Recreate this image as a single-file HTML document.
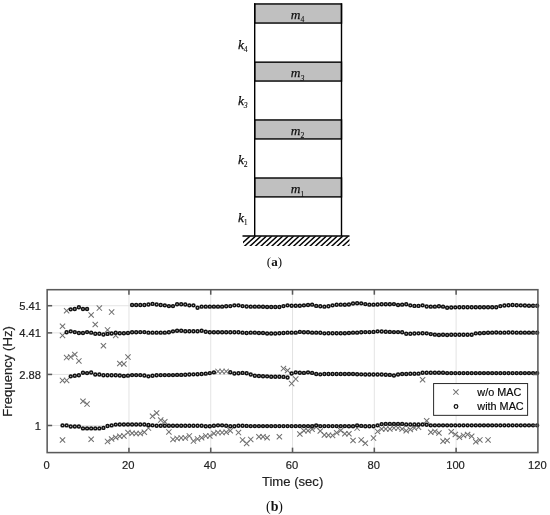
<!DOCTYPE html>
<html><head><meta charset="utf-8"><title>Figure</title>
<style>
html,body{margin:0;padding:0;background:#fff;}
svg{display:block;}
.ss{font-family:"Liberation Sans",sans-serif;fill:#222;stroke:#222;stroke-width:0.18px;}
.sf{font-family:"Liberation Serif",serif;fill:#111;}
</style></head><body>
<svg width="550" height="515" viewBox="0 0 550 515">
<rect width="550" height="515" fill="#fff"/>
<g id="frame">
<rect x="254.7" y="3.95" width="86.8" height="19.1" fill="#c0c0c0" stroke="#000" stroke-width="1.4"/>
<rect x="254.7" y="62.15" width="86.8" height="18.9" fill="#c0c0c0" stroke="#000" stroke-width="1.4"/>
<rect x="254.7" y="119.95" width="86.8" height="19.0" fill="#c0c0c0" stroke="#000" stroke-width="1.4"/>
<rect x="254.7" y="178.0" width="86.8" height="18.9" fill="#c0c0c0" stroke="#000" stroke-width="1.4"/>
<line x1="254.7" y1="3.3" x2="254.7" y2="236" stroke="#000" stroke-width="1.4"/>
<line x1="341.5" y1="3.3" x2="341.5" y2="236" stroke="#000" stroke-width="1.4"/>
<line x1="242.5" y1="236" x2="349.5" y2="236" stroke="#000" stroke-width="1.65"/>
<clipPath id="hc"><rect x="243" y="236.3" width="106.5" height="9.6"/></clipPath>
<g clip-path="url(#hc)" stroke="#000" stroke-width="1.45">
<line x1="238.20" y1="247" x2="250.20" y2="236"/><line x1="243.65" y1="247" x2="255.65" y2="236"/><line x1="249.10" y1="247" x2="261.10" y2="236"/><line x1="254.55" y1="247" x2="266.55" y2="236"/><line x1="260.00" y1="247" x2="272.00" y2="236"/><line x1="265.45" y1="247" x2="277.45" y2="236"/><line x1="270.90" y1="247" x2="282.90" y2="236"/><line x1="276.35" y1="247" x2="288.35" y2="236"/><line x1="281.80" y1="247" x2="293.80" y2="236"/><line x1="287.25" y1="247" x2="299.25" y2="236"/><line x1="292.70" y1="247" x2="304.70" y2="236"/><line x1="298.15" y1="247" x2="310.15" y2="236"/><line x1="303.60" y1="247" x2="315.60" y2="236"/><line x1="309.05" y1="247" x2="321.05" y2="236"/><line x1="314.50" y1="247" x2="326.50" y2="236"/><line x1="319.95" y1="247" x2="331.95" y2="236"/><line x1="325.40" y1="247" x2="337.40" y2="236"/><line x1="330.85" y1="247" x2="342.85" y2="236"/><line x1="336.30" y1="247" x2="348.30" y2="236"/><line x1="341.75" y1="247" x2="353.75" y2="236"/><line x1="347.20" y1="247" x2="359.20" y2="236"/>
</g>
<text class="sf" x="290.7" y="18.55" font-size="13.4" font-style="italic" stroke="#111" stroke-width="0.25">m<tspan font-size="7.7" font-style="normal" dy="3.9" dx="0.1" stroke-width="0.1">4</tspan></text>
<text class="sf" x="290.7" y="76.75" font-size="13.4" font-style="italic" stroke="#111" stroke-width="0.25">m<tspan font-size="7.7" font-style="italic" dy="3.9" dx="0.1" stroke-width="0.1">3</tspan></text>
<text class="sf" x="290.7" y="134.55" font-size="13.4" font-style="italic" stroke="#111" stroke-width="0.25">m<tspan font-size="7.7" font-style="normal" dy="3.9" dx="0.1" stroke-width="0.1">2</tspan></text>
<text class="sf" x="290.7" y="192.60" font-size="13.4" font-style="italic" stroke="#111" stroke-width="0.25">m<tspan font-size="7.7" font-style="normal" dy="3.9" dx="0.1" stroke-width="0.1">1</tspan></text>
<text class="sf" x="238.0" y="48.6" font-size="13.4" font-style="italic" stroke="#111" stroke-width="0.25">k<tspan font-size="7.7" font-style="normal" dy="3.3" dx="-0.2" stroke-width="0.1">4</tspan></text>
<text class="sf" x="238.0" y="104.5" font-size="13.4" font-style="italic" stroke="#111" stroke-width="0.25">k<tspan font-size="7.7" font-style="italic" dy="3.3" dx="-0.2" stroke-width="0.1">3</tspan></text>
<text class="sf" x="238.0" y="163.7" font-size="13.4" font-style="italic" stroke="#111" stroke-width="0.25">k<tspan font-size="7.7" font-style="normal" dy="3.3" dx="-0.2" stroke-width="0.1">2</tspan></text>
<text class="sf" x="238.0" y="221.5" font-size="13.4" font-style="italic" stroke="#111" stroke-width="0.25">k<tspan font-size="7.7" font-style="normal" dy="3.3" dx="-0.2" stroke-width="0.1">1</tspan></text>
<text class="sf" x="274.4" y="266.2" font-size="13" text-anchor="middle">(<tspan font-weight="bold">a</tspan>)</text>
</g>
<g id="chart">
<rect x="47.15" y="289.7" width="490.75" height="162.9" fill="#fff"/>
<g stroke="#e0e0e0" stroke-width="0.9">
<line x1="128.94" y1="289.7" x2="128.94" y2="452.65"/><line x1="210.73" y1="289.7" x2="210.73" y2="452.65"/><line x1="292.52" y1="289.7" x2="292.52" y2="452.65"/><line x1="374.32" y1="289.7" x2="374.32" y2="452.65"/><line x1="456.11" y1="289.7" x2="456.11" y2="452.65"/><line x1="47.15" y1="425.49" x2="537.9" y2="425.49"/><line x1="47.15" y1="374.43" x2="537.9" y2="374.43"/><line x1="47.15" y1="332.88" x2="537.9" y2="332.88"/><line x1="47.15" y1="305.72" x2="537.9" y2="305.72"/>
</g>
<g stroke="#707070" stroke-width="1.05" fill="none">
<path d="M63.96 308.15L69.26 313.45M63.96 313.45L69.26 308.15"/><path d="M88.51 312.35L93.81 317.65M88.51 317.65L93.81 312.35"/><path d="M96.69 305.45L101.99 310.75M96.69 310.75L101.99 305.45"/><path d="M108.97 309.45L114.27 314.75M108.97 314.75L114.27 309.45"/><path d="M59.87 323.65L65.17 328.95M59.87 328.95L65.17 323.65"/><path d="M59.87 332.75L65.17 338.05M59.87 338.05L65.17 332.75"/><path d="M92.60 321.85L97.90 327.15M92.60 327.15L97.90 321.85"/><path d="M104.88 327.25L110.18 332.55M104.88 332.55L110.18 327.25"/><path d="M113.06 332.75L118.36 338.05M113.06 338.05L118.36 332.75"/><path d="M100.78 343.15L106.08 348.45M100.78 348.45L106.08 343.15"/><path d="M59.87 377.75L65.17 383.05M59.87 383.05L65.17 377.75"/><path d="M63.96 377.75L69.26 383.05M63.96 383.05L69.26 377.75"/><path d="M63.96 354.95L69.26 360.25M63.96 360.25L69.26 354.95"/><path d="M68.05 354.45L73.35 359.75M68.05 359.75L73.35 354.45"/><path d="M72.14 351.85L77.44 357.15M72.14 357.15L77.44 351.85"/><path d="M76.23 358.25L81.53 363.55M76.23 363.55L81.53 358.25"/><path d="M117.15 360.85L122.45 366.15M117.15 366.15L122.45 360.85"/><path d="M121.24 361.35L126.54 366.65M121.24 366.65L126.54 361.35"/><path d="M125.33 354.45L130.63 359.75M125.33 359.75L130.63 354.45"/><path d="M215.35 368.75L220.65 374.05M215.35 374.05L220.65 368.75"/><path d="M219.44 368.75L224.74 374.05M219.44 374.05L224.74 368.75"/><path d="M223.53 368.75L228.83 374.05M223.53 374.05L228.83 368.75"/><path d="M280.82 365.95L286.12 371.25M280.82 371.25L286.12 365.95"/><path d="M284.91 367.85L290.21 373.15M284.91 373.15L290.21 367.85"/><path d="M289.00 380.95L294.30 386.25M289.00 386.25L294.30 380.95"/><path d="M293.09 376.45L298.39 381.75M293.09 381.75L298.39 376.45"/><path d="M419.94 377.15L425.24 382.45M419.94 382.45L425.24 377.15"/><path d="M80.33 398.55L85.63 403.85M80.33 403.85L85.63 398.55"/><path d="M84.42 401.45L89.72 406.75M84.42 406.75L89.72 401.45"/><path d="M59.87 437.35L65.17 442.65M59.87 442.65L65.17 437.35"/><path d="M88.51 436.65L93.81 441.95M88.51 441.95L93.81 436.65"/><path d="M104.88 438.75L110.18 444.05M104.88 444.05L110.18 438.75"/><path d="M108.97 436.35L114.27 441.65M108.97 441.65L114.27 436.35"/><path d="M113.06 434.85L118.36 440.15M113.06 440.15L118.36 434.85"/><path d="M117.15 433.65L122.45 438.95M117.15 438.95L122.45 433.65"/><path d="M121.24 433.25L126.54 438.55M121.24 438.55L126.54 433.25"/><path d="M125.33 429.95L130.63 435.25M125.33 435.25L130.63 429.95"/><path d="M129.43 430.55L134.73 435.85M129.43 435.85L134.73 430.55"/><path d="M133.52 430.85L138.82 436.15M133.52 436.15L138.82 430.85"/><path d="M137.61 430.85L142.91 436.15M137.61 436.15L142.91 430.85"/><path d="M141.70 429.55L147.00 434.85M141.70 434.85L147.00 429.55"/><path d="M145.79 425.45L151.09 430.75M145.79 430.75L151.09 425.45"/><path d="M149.88 413.55L155.18 418.85M149.88 418.85L155.18 413.55"/><path d="M153.98 410.35L159.28 415.65M153.98 415.65L159.28 410.35"/><path d="M158.07 417.45L163.37 422.75M158.07 422.75L163.37 417.45"/><path d="M162.16 419.15L167.46 424.45M162.16 424.45L167.46 419.15"/><path d="M166.25 429.25L171.55 434.55M166.25 434.55L171.55 429.25"/><path d="M170.34 436.75L175.64 442.05M170.34 442.05L175.64 436.75"/><path d="M174.43 435.75L179.73 441.05M174.43 441.05L179.73 435.75"/><path d="M178.53 435.25L183.83 440.55M178.53 440.55L183.83 435.25"/><path d="M182.62 435.25L187.92 440.55M182.62 440.55L187.92 435.25"/><path d="M186.71 433.25L192.01 438.55M186.71 438.55L192.01 433.25"/><path d="M190.80 438.45L196.10 443.75M190.80 443.75L196.10 438.45"/><path d="M194.89 436.25L200.19 441.55M194.89 441.55L200.19 436.25"/><path d="M198.98 435.05L204.28 440.35M198.98 440.35L204.28 435.05"/><path d="M203.08 433.25L208.38 438.55M203.08 438.55L208.38 433.25"/><path d="M207.17 433.25L212.47 438.55M207.17 438.55L212.47 433.25"/><path d="M211.26 430.85L216.56 436.15M211.26 436.15L216.56 430.85"/><path d="M215.35 429.95L220.65 435.25M215.35 435.25L220.65 429.95"/><path d="M219.44 429.95L224.74 435.25M219.44 435.25L224.74 429.95"/><path d="M223.53 429.65L228.83 434.95M223.53 434.95L228.83 429.65"/><path d="M227.63 428.15L232.93 433.45M227.63 433.45L232.93 428.15"/><path d="M235.81 429.95L241.11 435.25M235.81 435.25L241.11 429.95"/><path d="M239.90 437.25L245.20 442.55M239.90 442.55L245.20 437.25"/><path d="M243.99 440.85L249.29 446.15M243.99 446.15L249.29 440.85"/><path d="M248.08 436.75L253.38 442.05M248.08 442.05L253.38 436.75"/><path d="M256.27 434.15L261.57 439.45M256.27 439.45L261.57 434.15"/><path d="M260.36 434.15L265.66 439.45M260.36 439.45L265.66 434.15"/><path d="M264.45 435.05L269.75 440.35M264.45 440.35L269.75 435.05"/><path d="M276.73 434.15L282.03 439.45M276.73 439.45L282.03 434.15"/><path d="M297.19 431.35L302.49 436.65M297.19 436.65L302.49 431.35"/><path d="M301.28 428.05L306.58 433.35M301.28 433.35L306.58 428.05"/><path d="M305.37 428.15L310.67 433.45M305.37 433.45L310.67 428.15"/><path d="M309.46 426.65L314.76 431.95M309.46 431.95L314.76 426.65"/><path d="M313.55 424.35L318.85 429.65M313.55 429.65L318.85 424.35"/><path d="M317.64 428.35L322.94 433.65M317.64 433.65L322.94 428.35"/><path d="M321.74 432.35L327.04 437.65M321.74 437.65L327.04 432.35"/><path d="M325.83 432.55L331.13 437.85M325.83 437.85L331.13 432.55"/><path d="M329.92 432.75L335.22 438.05M329.92 438.05L335.22 432.75"/><path d="M334.01 430.05L339.31 435.35M334.01 435.35L339.31 430.05"/><path d="M338.10 427.85L343.40 433.15M338.10 433.15L343.40 427.85"/><path d="M342.19 431.05L347.49 436.35M342.19 436.35L347.49 431.05"/><path d="M346.29 431.05L351.59 436.35M346.29 436.35L351.59 431.05"/><path d="M350.38 437.85L355.68 443.15M350.38 443.15L355.68 437.85"/><path d="M354.47 425.45L359.77 430.75M354.47 430.75L359.77 425.45"/><path d="M358.56 437.25L363.86 442.55M358.56 442.55L363.86 437.25"/><path d="M362.65 440.55L367.95 445.85M362.65 445.85L367.95 440.55"/><path d="M370.84 435.45L376.14 440.75M370.84 440.75L376.14 435.45"/><path d="M374.93 428.75L380.23 434.05M374.93 434.05L380.23 428.75"/><path d="M379.02 426.35L384.32 431.65M379.02 431.65L384.32 426.35"/><path d="M383.11 426.35L388.41 431.65M383.11 431.65L388.41 426.35"/><path d="M387.20 426.35L392.50 431.65M387.20 431.65L392.50 426.35"/><path d="M391.29 425.45L396.59 430.75M391.29 430.75L396.59 425.45"/><path d="M395.39 425.45L400.69 430.75M395.39 430.75L400.69 425.45"/><path d="M399.48 426.35L404.78 431.65M399.48 431.65L404.78 426.35"/><path d="M403.57 428.15L408.87 433.45M403.57 433.45L408.87 428.15"/><path d="M407.66 426.85L412.96 432.15M407.66 432.15L412.96 426.85"/><path d="M411.75 425.45L417.05 430.75M411.75 430.75L417.05 425.45"/><path d="M415.84 424.55L421.14 429.85M415.84 429.85L421.14 424.55"/><path d="M424.03 418.15L429.33 423.45M424.03 423.45L429.33 418.15"/><path d="M428.12 429.65L433.42 434.95M428.12 434.95L433.42 429.65"/><path d="M432.21 428.75L437.51 434.05M432.21 434.05L437.51 428.75"/><path d="M436.30 430.35L441.60 435.65M436.30 435.65L441.60 430.35"/><path d="M440.39 438.55L445.69 443.85M440.39 443.85L445.69 438.55"/><path d="M444.49 437.85L449.79 443.15M444.49 443.15L449.79 437.85"/><path d="M448.58 429.05L453.88 434.35M448.58 434.35L453.88 429.05"/><path d="M452.67 431.85L457.97 437.15M452.67 437.15L457.97 431.85"/><path d="M456.76 434.55L462.06 439.85M456.76 439.85L462.06 434.55"/><path d="M460.85 432.75L466.15 438.05M460.85 438.05L466.15 432.75"/><path d="M464.94 431.85L470.24 437.15M464.94 437.15L470.24 431.85"/><path d="M469.04 433.65L474.34 438.95M469.04 438.95L474.34 433.65"/><path d="M473.13 439.05L478.43 444.35M473.13 444.35L478.43 439.05"/><path d="M477.22 437.25L482.52 442.55M477.22 442.55L482.52 437.25"/><path d="M485.40 437.25L490.70 442.55M485.40 442.55L490.70 437.25"/>
</g>
<g stroke="#111" stroke-width="1.5" fill="#c4c4c4">
<circle cx="62.52" cy="425.40" r="1.45"/><circle cx="66.61" cy="425.40" r="1.45"/><circle cx="70.70" cy="426.50" r="1.45"/><circle cx="74.79" cy="426.50" r="1.45"/><circle cx="78.88" cy="426.50" r="1.45"/><circle cx="82.98" cy="428.40" r="1.45"/><circle cx="87.07" cy="428.40" r="1.45"/><circle cx="91.16" cy="428.40" r="1.45"/><circle cx="95.25" cy="428.40" r="1.45"/><circle cx="99.34" cy="428.40" r="1.45"/><circle cx="103.43" cy="427.90" r="1.45"/><circle cx="107.53" cy="426.00" r="1.45"/><circle cx="111.62" cy="425.40" r="1.45"/><circle cx="115.71" cy="424.60" r="1.45"/><circle cx="119.80" cy="424.50" r="1.45"/><circle cx="123.89" cy="424.50" r="1.45"/><circle cx="127.98" cy="424.50" r="1.45"/><circle cx="132.08" cy="424.50" r="1.45"/><circle cx="136.17" cy="424.50" r="1.45"/><circle cx="140.26" cy="424.50" r="1.45"/><circle cx="144.35" cy="424.50" r="1.45"/><circle cx="148.44" cy="425.00" r="1.45"/><circle cx="152.53" cy="425.36" r="1.45"/><circle cx="156.63" cy="425.73" r="1.45"/><circle cx="160.72" cy="425.73" r="1.45"/><circle cx="164.81" cy="425.73" r="1.45"/><circle cx="168.90" cy="425.73" r="1.45"/><circle cx="172.99" cy="425.73" r="1.45"/><circle cx="177.08" cy="425.73" r="1.45"/><circle cx="181.18" cy="425.73" r="1.45"/><circle cx="185.27" cy="425.73" r="1.45"/><circle cx="189.36" cy="425.73" r="1.45"/><circle cx="193.45" cy="425.73" r="1.45"/><circle cx="197.54" cy="425.73" r="1.45"/><circle cx="201.63" cy="425.73" r="1.45"/><circle cx="205.73" cy="426.27" r="1.45"/><circle cx="209.82" cy="426.27" r="1.45"/><circle cx="213.91" cy="425.73" r="1.45"/><circle cx="218.00" cy="425.36" r="1.45"/><circle cx="222.09" cy="425.36" r="1.45"/><circle cx="226.18" cy="425.73" r="1.45"/><circle cx="230.28" cy="426.27" r="1.45"/><circle cx="234.37" cy="426.27" r="1.45"/><circle cx="238.46" cy="425.73" r="1.45"/><circle cx="242.55" cy="425.73" r="1.45"/><circle cx="246.64" cy="425.91" r="1.45"/><circle cx="250.73" cy="426.09" r="1.45"/><circle cx="254.83" cy="426.09" r="1.45"/><circle cx="258.92" cy="426.09" r="1.45"/><circle cx="263.01" cy="426.09" r="1.45"/><circle cx="267.10" cy="426.09" r="1.45"/><circle cx="271.19" cy="426.09" r="1.45"/><circle cx="275.28" cy="426.09" r="1.45"/><circle cx="279.38" cy="426.09" r="1.45"/><circle cx="283.47" cy="426.09" r="1.45"/><circle cx="287.56" cy="426.09" r="1.45"/><circle cx="291.65" cy="426.09" r="1.45"/><circle cx="295.74" cy="426.09" r="1.45"/><circle cx="299.84" cy="426.09" r="1.45"/><circle cx="303.93" cy="426.09" r="1.45"/><circle cx="308.02" cy="426.09" r="1.45"/><circle cx="312.11" cy="426.09" r="1.45"/><circle cx="316.20" cy="425.36" r="1.45"/><circle cx="320.29" cy="426.09" r="1.45"/><circle cx="324.39" cy="426.09" r="1.45"/><circle cx="328.48" cy="426.09" r="1.45"/><circle cx="332.57" cy="426.09" r="1.45"/><circle cx="336.66" cy="426.09" r="1.45"/><circle cx="340.75" cy="426.09" r="1.45"/><circle cx="344.84" cy="426.09" r="1.45"/><circle cx="348.94" cy="426.27" r="1.45"/><circle cx="353.03" cy="426.27" r="1.45"/><circle cx="357.12" cy="425.36" r="1.45"/><circle cx="361.21" cy="425.91" r="1.45"/><circle cx="365.30" cy="426.27" r="1.45"/><circle cx="369.39" cy="426.27" r="1.45"/><circle cx="373.49" cy="426.27" r="1.45"/><circle cx="377.58" cy="425.36" r="1.45"/><circle cx="381.67" cy="424.09" r="1.45"/><circle cx="385.76" cy="423.91" r="1.45"/><circle cx="389.85" cy="423.91" r="1.45"/><circle cx="393.94" cy="423.91" r="1.45"/><circle cx="398.04" cy="423.91" r="1.45"/><circle cx="402.13" cy="423.91" r="1.45"/><circle cx="406.22" cy="424.45" r="1.45"/><circle cx="410.31" cy="424.45" r="1.45"/><circle cx="414.40" cy="424.45" r="1.45"/><circle cx="418.49" cy="424.45" r="1.45"/><circle cx="422.59" cy="424.45" r="1.45"/><circle cx="426.68" cy="424.82" r="1.45"/><circle cx="430.77" cy="425.36" r="1.45"/><circle cx="434.86" cy="425.36" r="1.45"/><circle cx="438.95" cy="425.36" r="1.45"/><circle cx="443.04" cy="425.36" r="1.45"/><circle cx="447.14" cy="425.36" r="1.45"/><circle cx="451.23" cy="425.36" r="1.45"/><circle cx="455.32" cy="425.36" r="1.45"/><circle cx="459.41" cy="425.36" r="1.45"/><circle cx="463.50" cy="425.36" r="1.45"/><circle cx="467.59" cy="425.36" r="1.45"/><circle cx="471.69" cy="425.36" r="1.45"/><circle cx="475.78" cy="425.36" r="1.45"/><circle cx="479.87" cy="425.36" r="1.45"/><circle cx="483.96" cy="425.36" r="1.45"/><circle cx="488.05" cy="425.36" r="1.45"/><circle cx="492.15" cy="425.36" r="1.45"/><circle cx="496.24" cy="425.36" r="1.45"/><circle cx="500.33" cy="425.36" r="1.45"/><circle cx="504.42" cy="425.36" r="1.45"/><circle cx="508.51" cy="425.36" r="1.45"/><circle cx="512.60" cy="425.36" r="1.45"/><circle cx="516.70" cy="425.36" r="1.45"/><circle cx="520.79" cy="425.36" r="1.45"/><circle cx="524.88" cy="425.36" r="1.45"/><circle cx="528.97" cy="425.36" r="1.45"/><circle cx="533.06" cy="425.36" r="1.45"/><circle cx="537.15" cy="425.36" r="1.45"/>
<circle cx="70.70" cy="376.36" r="1.45"/><circle cx="74.79" cy="375.82" r="1.45"/><circle cx="78.88" cy="375.27" r="1.45"/><circle cx="82.98" cy="372.73" r="1.45"/><circle cx="87.07" cy="373.09" r="1.45"/><circle cx="91.16" cy="372.55" r="1.45"/><circle cx="95.25" cy="374.55" r="1.45"/><circle cx="99.34" cy="374.55" r="1.45"/><circle cx="103.43" cy="375.27" r="1.45"/><circle cx="107.53" cy="375.27" r="1.45"/><circle cx="111.62" cy="375.27" r="1.45"/><circle cx="115.71" cy="375.27" r="1.45"/><circle cx="119.80" cy="375.45" r="1.45"/><circle cx="123.89" cy="376.00" r="1.45"/><circle cx="127.98" cy="375.64" r="1.45"/><circle cx="132.08" cy="375.09" r="1.45"/><circle cx="136.17" cy="375.09" r="1.45"/><circle cx="140.26" cy="375.09" r="1.45"/><circle cx="144.35" cy="375.45" r="1.45"/><circle cx="148.44" cy="376.36" r="1.45"/><circle cx="152.53" cy="375.82" r="1.45"/><circle cx="156.63" cy="375.27" r="1.45"/><circle cx="160.72" cy="375.09" r="1.45"/><circle cx="164.81" cy="375.09" r="1.45"/><circle cx="168.90" cy="375.09" r="1.45"/><circle cx="172.99" cy="375.09" r="1.45"/><circle cx="177.08" cy="374.91" r="1.45"/><circle cx="181.18" cy="374.91" r="1.45"/><circle cx="185.27" cy="374.73" r="1.45"/><circle cx="189.36" cy="374.55" r="1.45"/><circle cx="193.45" cy="374.36" r="1.45"/><circle cx="197.54" cy="374.18" r="1.45"/><circle cx="201.63" cy="374.00" r="1.45"/><circle cx="205.73" cy="373.64" r="1.45"/><circle cx="209.82" cy="373.09" r="1.45"/><circle cx="213.91" cy="372.36" r="1.45"/><circle cx="230.28" cy="372.18" r="1.45"/><circle cx="234.37" cy="373.45" r="1.45"/><circle cx="238.46" cy="373.27" r="1.45"/><circle cx="242.55" cy="372.91" r="1.45"/><circle cx="246.64" cy="373.27" r="1.45"/><circle cx="250.73" cy="374.55" r="1.45"/><circle cx="254.83" cy="375.82" r="1.45"/><circle cx="258.92" cy="376.00" r="1.45"/><circle cx="263.01" cy="376.18" r="1.45"/><circle cx="267.10" cy="376.36" r="1.45"/><circle cx="271.19" cy="376.73" r="1.45"/><circle cx="275.28" cy="376.73" r="1.45"/><circle cx="279.38" cy="376.73" r="1.45"/><circle cx="283.47" cy="376.91" r="1.45"/><circle cx="287.56" cy="377.45" r="1.45"/><circle cx="291.65" cy="373.45" r="1.45"/><circle cx="295.74" cy="372.36" r="1.45"/><circle cx="299.84" cy="372.73" r="1.45"/><circle cx="303.93" cy="372.91" r="1.45"/><circle cx="308.02" cy="372.36" r="1.45"/><circle cx="312.11" cy="372.91" r="1.45"/><circle cx="316.20" cy="374.00" r="1.45"/><circle cx="320.29" cy="374.36" r="1.45"/><circle cx="324.39" cy="374.00" r="1.45"/><circle cx="328.48" cy="374.00" r="1.45"/><circle cx="332.57" cy="374.00" r="1.45"/><circle cx="336.66" cy="374.00" r="1.45"/><circle cx="340.75" cy="374.00" r="1.45"/><circle cx="344.84" cy="374.00" r="1.45"/><circle cx="348.94" cy="374.00" r="1.45"/><circle cx="353.03" cy="374.00" r="1.45"/><circle cx="357.12" cy="374.18" r="1.45"/><circle cx="361.21" cy="374.36" r="1.45"/><circle cx="365.30" cy="374.55" r="1.45"/><circle cx="369.39" cy="374.55" r="1.45"/><circle cx="373.49" cy="374.55" r="1.45"/><circle cx="377.58" cy="374.55" r="1.45"/><circle cx="381.67" cy="374.55" r="1.45"/><circle cx="385.76" cy="374.73" r="1.45"/><circle cx="389.85" cy="374.91" r="1.45"/><circle cx="393.94" cy="375.45" r="1.45"/><circle cx="398.04" cy="374.55" r="1.45"/><circle cx="402.13" cy="374.00" r="1.45"/><circle cx="406.22" cy="374.00" r="1.45"/><circle cx="410.31" cy="373.82" r="1.45"/><circle cx="414.40" cy="373.82" r="1.45"/><circle cx="418.49" cy="373.64" r="1.45"/><circle cx="422.59" cy="372.73" r="1.45"/><circle cx="426.68" cy="372.73" r="1.45"/><circle cx="430.77" cy="372.73" r="1.45"/><circle cx="434.86" cy="372.73" r="1.45"/><circle cx="438.95" cy="372.73" r="1.45"/><circle cx="443.04" cy="372.73" r="1.45"/><circle cx="447.14" cy="373.09" r="1.45"/><circle cx="451.23" cy="373.09" r="1.45"/><circle cx="455.32" cy="373.09" r="1.45"/><circle cx="459.41" cy="373.09" r="1.45"/><circle cx="463.50" cy="373.09" r="1.45"/><circle cx="467.59" cy="373.09" r="1.45"/><circle cx="471.69" cy="373.09" r="1.45"/><circle cx="475.78" cy="373.09" r="1.45"/><circle cx="479.87" cy="373.09" r="1.45"/><circle cx="483.96" cy="373.09" r="1.45"/><circle cx="488.05" cy="373.09" r="1.45"/><circle cx="492.15" cy="373.09" r="1.45"/><circle cx="496.24" cy="373.09" r="1.45"/><circle cx="500.33" cy="373.09" r="1.45"/><circle cx="504.42" cy="373.09" r="1.45"/><circle cx="508.51" cy="373.09" r="1.45"/><circle cx="512.60" cy="373.09" r="1.45"/><circle cx="516.70" cy="373.09" r="1.45"/><circle cx="520.79" cy="373.09" r="1.45"/><circle cx="524.88" cy="373.09" r="1.45"/><circle cx="528.97" cy="373.09" r="1.45"/><circle cx="533.06" cy="373.09" r="1.45"/><circle cx="537.15" cy="373.09" r="1.45"/>
<circle cx="66.61" cy="332.27" r="1.45"/><circle cx="70.70" cy="331.36" r="1.45"/><circle cx="74.79" cy="332.09" r="1.45"/><circle cx="78.88" cy="333.00" r="1.45"/><circle cx="82.98" cy="333.00" r="1.45"/><circle cx="87.07" cy="332.09" r="1.45"/><circle cx="91.16" cy="332.64" r="1.45"/><circle cx="95.25" cy="333.73" r="1.45"/><circle cx="99.34" cy="333.73" r="1.45"/><circle cx="103.43" cy="334.45" r="1.45"/><circle cx="107.53" cy="333.91" r="1.45"/><circle cx="111.62" cy="333.55" r="1.45"/><circle cx="115.71" cy="332.82" r="1.45"/><circle cx="119.80" cy="333.18" r="1.45"/><circle cx="123.89" cy="333.18" r="1.45"/><circle cx="127.98" cy="333.00" r="1.45"/><circle cx="132.08" cy="332.27" r="1.45"/><circle cx="136.17" cy="332.27" r="1.45"/><circle cx="140.26" cy="332.09" r="1.45"/><circle cx="144.35" cy="332.09" r="1.45"/><circle cx="148.44" cy="332.64" r="1.45"/><circle cx="152.53" cy="332.64" r="1.45"/><circle cx="156.63" cy="332.64" r="1.45"/><circle cx="160.72" cy="332.64" r="1.45"/><circle cx="164.81" cy="332.64" r="1.45"/><circle cx="168.90" cy="332.27" r="1.45"/><circle cx="172.99" cy="331.36" r="1.45"/><circle cx="177.08" cy="330.82" r="1.45"/><circle cx="181.18" cy="330.82" r="1.45"/><circle cx="185.27" cy="331.18" r="1.45"/><circle cx="189.36" cy="331.18" r="1.45"/><circle cx="193.45" cy="331.18" r="1.45"/><circle cx="197.54" cy="331.18" r="1.45"/><circle cx="201.63" cy="330.82" r="1.45"/><circle cx="205.73" cy="331.73" r="1.45"/><circle cx="209.82" cy="332.27" r="1.45"/><circle cx="213.91" cy="332.27" r="1.45"/><circle cx="218.00" cy="332.27" r="1.45"/><circle cx="222.09" cy="332.27" r="1.45"/><circle cx="226.18" cy="332.27" r="1.45"/><circle cx="230.28" cy="332.27" r="1.45"/><circle cx="234.37" cy="332.27" r="1.45"/><circle cx="238.46" cy="332.27" r="1.45"/><circle cx="242.55" cy="332.64" r="1.45"/><circle cx="246.64" cy="333.00" r="1.45"/><circle cx="250.73" cy="332.64" r="1.45"/><circle cx="254.83" cy="332.64" r="1.45"/><circle cx="258.92" cy="333.00" r="1.45"/><circle cx="263.01" cy="333.00" r="1.45"/><circle cx="267.10" cy="333.55" r="1.45"/><circle cx="271.19" cy="333.55" r="1.45"/><circle cx="275.28" cy="333.55" r="1.45"/><circle cx="279.38" cy="333.18" r="1.45"/><circle cx="283.47" cy="333.00" r="1.45"/><circle cx="287.56" cy="332.64" r="1.45"/><circle cx="291.65" cy="332.64" r="1.45"/><circle cx="295.74" cy="332.64" r="1.45"/><circle cx="299.84" cy="331.91" r="1.45"/><circle cx="303.93" cy="332.27" r="1.45"/><circle cx="308.02" cy="332.27" r="1.45"/><circle cx="312.11" cy="332.64" r="1.45"/><circle cx="316.20" cy="332.64" r="1.45"/><circle cx="320.29" cy="332.82" r="1.45"/><circle cx="324.39" cy="333.36" r="1.45"/><circle cx="328.48" cy="333.18" r="1.45"/><circle cx="332.57" cy="333.18" r="1.45"/><circle cx="336.66" cy="333.18" r="1.45"/><circle cx="340.75" cy="333.18" r="1.45"/><circle cx="344.84" cy="333.18" r="1.45"/><circle cx="348.94" cy="333.00" r="1.45"/><circle cx="353.03" cy="332.64" r="1.45"/><circle cx="357.12" cy="332.64" r="1.45"/><circle cx="361.21" cy="332.27" r="1.45"/><circle cx="365.30" cy="332.09" r="1.45"/><circle cx="369.39" cy="332.09" r="1.45"/><circle cx="373.49" cy="331.91" r="1.45"/><circle cx="377.58" cy="331.36" r="1.45"/><circle cx="381.67" cy="331.55" r="1.45"/><circle cx="385.76" cy="331.73" r="1.45"/><circle cx="389.85" cy="331.91" r="1.45"/><circle cx="393.94" cy="332.09" r="1.45"/><circle cx="398.04" cy="332.09" r="1.45"/><circle cx="402.13" cy="332.27" r="1.45"/><circle cx="406.22" cy="333.73" r="1.45"/><circle cx="410.31" cy="333.73" r="1.45"/><circle cx="414.40" cy="333.55" r="1.45"/><circle cx="418.49" cy="333.36" r="1.45"/><circle cx="422.59" cy="333.18" r="1.45"/><circle cx="426.68" cy="333.36" r="1.45"/><circle cx="430.77" cy="334.09" r="1.45"/><circle cx="434.86" cy="334.64" r="1.45"/><circle cx="438.95" cy="335.00" r="1.45"/><circle cx="443.04" cy="334.82" r="1.45"/><circle cx="447.14" cy="335.00" r="1.45"/><circle cx="451.23" cy="334.82" r="1.45"/><circle cx="455.32" cy="334.82" r="1.45"/><circle cx="459.41" cy="334.82" r="1.45"/><circle cx="463.50" cy="334.82" r="1.45"/><circle cx="467.59" cy="334.82" r="1.45"/><circle cx="471.69" cy="334.82" r="1.45"/><circle cx="475.78" cy="333.36" r="1.45"/><circle cx="479.87" cy="333.18" r="1.45"/><circle cx="483.96" cy="333.00" r="1.45"/><circle cx="488.05" cy="332.82" r="1.45"/><circle cx="492.15" cy="332.64" r="1.45"/><circle cx="496.24" cy="332.45" r="1.45"/><circle cx="500.33" cy="332.64" r="1.45"/><circle cx="504.42" cy="332.64" r="1.45"/><circle cx="508.51" cy="332.45" r="1.45"/><circle cx="512.60" cy="332.45" r="1.45"/><circle cx="516.70" cy="332.64" r="1.45"/><circle cx="520.79" cy="332.64" r="1.45"/><circle cx="524.88" cy="332.64" r="1.45"/><circle cx="528.97" cy="332.64" r="1.45"/><circle cx="533.06" cy="332.64" r="1.45"/><circle cx="537.15" cy="332.64" r="1.45"/>
<circle cx="70.70" cy="309.36" r="1.45"/><circle cx="74.79" cy="309.00" r="1.45"/><circle cx="78.88" cy="307.18" r="1.45"/><circle cx="82.98" cy="309.00" r="1.45"/><circle cx="87.07" cy="309.00" r="1.45"/><circle cx="132.08" cy="305.00" r="1.45"/><circle cx="136.17" cy="305.00" r="1.45"/><circle cx="140.26" cy="305.00" r="1.45"/><circle cx="144.35" cy="305.00" r="1.45"/><circle cx="148.44" cy="304.45" r="1.45"/><circle cx="152.53" cy="303.91" r="1.45"/><circle cx="156.63" cy="304.45" r="1.45"/><circle cx="160.72" cy="305.00" r="1.45"/><circle cx="164.81" cy="305.36" r="1.45"/><circle cx="168.90" cy="306.09" r="1.45"/><circle cx="172.99" cy="306.09" r="1.45"/><circle cx="177.08" cy="304.27" r="1.45"/><circle cx="181.18" cy="304.27" r="1.45"/><circle cx="185.27" cy="304.45" r="1.45"/><circle cx="189.36" cy="305.36" r="1.45"/><circle cx="193.45" cy="305.36" r="1.45"/><circle cx="197.54" cy="307.73" r="1.45"/><circle cx="201.63" cy="306.64" r="1.45"/><circle cx="205.73" cy="306.64" r="1.45"/><circle cx="209.82" cy="306.64" r="1.45"/><circle cx="213.91" cy="306.64" r="1.45"/><circle cx="218.00" cy="306.64" r="1.45"/><circle cx="222.09" cy="306.64" r="1.45"/><circle cx="226.18" cy="306.27" r="1.45"/><circle cx="230.28" cy="306.09" r="1.45"/><circle cx="234.37" cy="305.36" r="1.45"/><circle cx="238.46" cy="305.36" r="1.45"/><circle cx="242.55" cy="306.09" r="1.45"/><circle cx="246.64" cy="306.45" r="1.45"/><circle cx="250.73" cy="306.64" r="1.45"/><circle cx="254.83" cy="306.64" r="1.45"/><circle cx="258.92" cy="306.64" r="1.45"/><circle cx="263.01" cy="306.82" r="1.45"/><circle cx="267.10" cy="307.00" r="1.45"/><circle cx="271.19" cy="307.00" r="1.45"/><circle cx="275.28" cy="307.00" r="1.45"/><circle cx="279.38" cy="307.00" r="1.45"/><circle cx="283.47" cy="306.09" r="1.45"/><circle cx="287.56" cy="305.36" r="1.45"/><circle cx="291.65" cy="305.73" r="1.45"/><circle cx="295.74" cy="305.73" r="1.45"/><circle cx="299.84" cy="305.73" r="1.45"/><circle cx="303.93" cy="305.36" r="1.45"/><circle cx="308.02" cy="305.00" r="1.45"/><circle cx="312.11" cy="304.64" r="1.45"/><circle cx="316.20" cy="305.91" r="1.45"/><circle cx="320.29" cy="306.27" r="1.45"/><circle cx="324.39" cy="306.64" r="1.45"/><circle cx="328.48" cy="306.27" r="1.45"/><circle cx="332.57" cy="305.36" r="1.45"/><circle cx="336.66" cy="304.82" r="1.45"/><circle cx="340.75" cy="304.64" r="1.45"/><circle cx="344.84" cy="304.82" r="1.45"/><circle cx="348.94" cy="304.45" r="1.45"/><circle cx="353.03" cy="303.55" r="1.45"/><circle cx="357.12" cy="303.18" r="1.45"/><circle cx="361.21" cy="303.36" r="1.45"/><circle cx="365.30" cy="304.09" r="1.45"/><circle cx="369.39" cy="304.64" r="1.45"/><circle cx="373.49" cy="304.64" r="1.45"/><circle cx="377.58" cy="304.45" r="1.45"/><circle cx="381.67" cy="304.27" r="1.45"/><circle cx="385.76" cy="304.27" r="1.45"/><circle cx="389.85" cy="304.27" r="1.45"/><circle cx="393.94" cy="304.09" r="1.45"/><circle cx="398.04" cy="305.00" r="1.45"/><circle cx="402.13" cy="304.64" r="1.45"/><circle cx="406.22" cy="304.27" r="1.45"/><circle cx="410.31" cy="305.36" r="1.45"/><circle cx="414.40" cy="305.91" r="1.45"/><circle cx="418.49" cy="305.91" r="1.45"/><circle cx="422.59" cy="305.36" r="1.45"/><circle cx="426.68" cy="306.45" r="1.45"/><circle cx="430.77" cy="306.64" r="1.45"/><circle cx="434.86" cy="306.64" r="1.45"/><circle cx="438.95" cy="306.27" r="1.45"/><circle cx="443.04" cy="306.64" r="1.45"/><circle cx="447.14" cy="307.73" r="1.45"/><circle cx="451.23" cy="307.55" r="1.45"/><circle cx="455.32" cy="307.36" r="1.45"/><circle cx="459.41" cy="307.18" r="1.45"/><circle cx="463.50" cy="307.18" r="1.45"/><circle cx="467.59" cy="307.18" r="1.45"/><circle cx="471.69" cy="307.18" r="1.45"/><circle cx="475.78" cy="307.18" r="1.45"/><circle cx="479.87" cy="307.18" r="1.45"/><circle cx="483.96" cy="307.18" r="1.45"/><circle cx="488.05" cy="307.18" r="1.45"/><circle cx="492.15" cy="307.18" r="1.45"/><circle cx="496.24" cy="307.18" r="1.45"/><circle cx="500.33" cy="306.09" r="1.45"/><circle cx="504.42" cy="305.55" r="1.45"/><circle cx="508.51" cy="305.18" r="1.45"/><circle cx="512.60" cy="305.00" r="1.45"/><circle cx="516.70" cy="305.18" r="1.45"/><circle cx="520.79" cy="305.36" r="1.45"/><circle cx="524.88" cy="305.55" r="1.45"/><circle cx="528.97" cy="305.73" r="1.45"/><circle cx="533.06" cy="305.73" r="1.45"/><circle cx="537.15" cy="305.73" r="1.45"/>
</g>
<g stroke="#5a5a5a" stroke-width="1.55" fill="none">
<rect x="47.15" y="289.7" width="490.75" height="162.9"/>
<line x1="128.94" y1="452.65" x2="128.94" y2="447.65"/><line x1="128.94" y1="289.7" x2="128.94" y2="294.7"/><line x1="210.73" y1="452.65" x2="210.73" y2="447.65"/><line x1="210.73" y1="289.7" x2="210.73" y2="294.7"/><line x1="292.52" y1="452.65" x2="292.52" y2="447.65"/><line x1="292.52" y1="289.7" x2="292.52" y2="294.7"/><line x1="374.32" y1="452.65" x2="374.32" y2="447.65"/><line x1="374.32" y1="289.7" x2="374.32" y2="294.7"/><line x1="456.11" y1="452.65" x2="456.11" y2="447.65"/><line x1="456.11" y1="289.7" x2="456.11" y2="294.7"/><line x1="47.15" y1="425.49" x2="52.15" y2="425.49"/><line x1="537.9" y1="425.49" x2="532.9" y2="425.49"/><line x1="47.15" y1="374.43" x2="52.15" y2="374.43"/><line x1="537.9" y1="374.43" x2="532.9" y2="374.43"/><line x1="47.15" y1="332.88" x2="52.15" y2="332.88"/><line x1="537.9" y1="332.88" x2="532.9" y2="332.88"/><line x1="47.15" y1="305.72" x2="52.15" y2="305.72"/><line x1="537.9" y1="305.72" x2="532.9" y2="305.72"/>
</g>
<text class="ss" x="46.5" y="469" font-size="11.2" text-anchor="middle">0</text>
<text class="ss" x="128.3" y="469" font-size="11.2" text-anchor="middle">20</text>
<text class="ss" x="210.1" y="469" font-size="11.2" text-anchor="middle">40</text>
<text class="ss" x="291.9" y="469" font-size="11.2" text-anchor="middle">60</text>
<text class="ss" x="373.7" y="469" font-size="11.2" text-anchor="middle">80</text>
<text class="ss" x="455.5" y="469" font-size="11.2" text-anchor="middle">100</text>
<text class="ss" x="537.3" y="469" font-size="11.2" text-anchor="middle">120</text>
<text class="ss" x="41" y="429.6" font-size="11.2" text-anchor="end">1</text>
<text class="ss" x="41" y="378.5" font-size="11.2" text-anchor="end">2.88</text>
<text class="ss" x="41" y="337.0" font-size="11.2" text-anchor="end">4.41</text>
<text class="ss" x="41" y="309.8" font-size="11.2" text-anchor="end">5.41</text>
<text class="ss" x="292.6" y="485.5" font-size="13.1" text-anchor="middle">Time (sec)</text>
<text class="ss" transform="translate(12.1 371.4) rotate(-90)" font-size="13.15" text-anchor="middle">Frequency (Hz)</text>
<rect x="433.6" y="383.55" width="94" height="31.8" fill="#fff" stroke="#2a2a2a" stroke-width="1"/>
<g stroke="#707070" stroke-width="1.05" fill="none"><path d="M453.25 389.45L458.55 394.75M453.25 394.75L458.55 389.45"/></g>
<circle cx="456" cy="406.45" r="1.8" stroke="#111" stroke-width="1.25" fill="none"/>
<text class="ss" x="477.3" y="396.05" font-size="10.85" style="fill:#000" stroke="#000" stroke-width="0.3">w/o MAC</text>
<text class="ss" x="477.3" y="410.25" font-size="10.85" style="fill:#000" stroke="#000" stroke-width="0.3">with MAC</text>
<text class="sf" x="274.5" y="510.5" font-size="13.9" text-anchor="middle">(<tspan font-weight="bold">b</tspan>)</text>
</g>
</svg>
</body></html>
